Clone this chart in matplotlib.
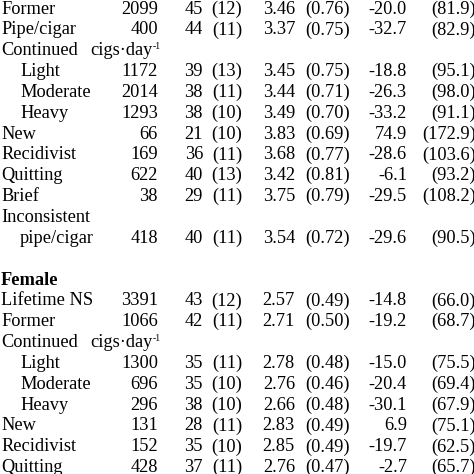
import matplotlib
matplotlib.use("Agg")
import matplotlib.pyplot as plt

labels = ["Former","Pipe/cigar","Continued","Light","Moderate","Heavy","New","Recidivist","Quitting","Brief","Inconsistent","pipe/cigar","","Female","Lifetime NS","Former","Continued","Light","Moderate","Heavy","New","Recidivist","Quitting"]
indent = [0,0,0,1,1,1,0,0,0,0,0,1,0,0,0,0,0,1,1,1,0,0,0]
n = ["2099","400","","1172","2014","1293","66","169","622","38","","418","","","3391","1066","","1300","696","296","131","152","428"]
age = ["45","44","","39","38","38","21","36","40","29","","40","","","43","42","","35","35","38","28","35","37"]
age_sd = ["(12)","(11)","","(13)","(11)","(10)","(10)","(11)","(13)","(11)","","(11)","","","(12)","(11)","","(11)","(10)","(10)","(11)","(10)","(11)"]
m = ["3.46","3.37","","3.45","3.44","3.49","3.83","3.68","3.42","3.75","","3.54","","","2.57","2.71","","2.78","2.76","2.66","2.83","2.85","2.76"]
m_sd = ["(0.76)","(0.75)","","(0.75)","(0.71)","(0.70)","(0.69)","(0.77)","(0.81)","(0.79)","","(0.72)","","","(0.49)","(0.50)","","(0.48)","(0.46)","(0.48)","(0.49)","(0.49)","(0.47)"]
ch = ["-20.0","-32.7","","-18.8","-26.3","-33.2","74.9","-28.6","-6.1","-29.5","","-29.6","","","-14.8","-19.2","","-15.0","-20.4","-30.1","6.9","-19.7","-2.7"]
ch_sd = ["(81.9)","(82.9)","","(95.1)","(98.0)","(91.1)","(172.9)","(103.6)","(93.2)","(108.2)","","(90.5)","","","(66.0)","(68.7)","","(75.5)","(69.4)","(67.9)","(75.1)","(62.5)","(65.7)"]

fig = plt.figure(figsize=(4.74,4.74), dpi=100)
ax = fig.add_axes([0,0,1,1]); ax.axis("off")
ax.set_xlim(0,474); ax.set_ylim(474,0)
fs = 13.2
fam = "Liberation Serif"
cols = [(n,158),(age,203),(age_sd,242),(m,295),(m_sd,350),(ch,407),(ch_sd,476)]
for i,lab in enumerate(labels):
    y = 9 + i*20.85
    x = 1 + 19*indent[i]
    if lab == "Continued":
        ax.text(x,y,"Continued",fontsize=fs,family=fam,va="center")
        ax.text(90,y,"cigs·day",fontsize=fs,family=fam,va="center")
        ax.text(153,y-4,"-1",fontsize=7,family=fam,va="center")
    elif lab:
        ax.text(x,y,lab,fontsize=fs,family=fam,va="center",weight="bold" if lab=="Female" else "normal")
    for arr,xr in cols:
        if arr[i]:
            ax.text(xr,y,arr[i],fontsize=fs,family=fam,va="center",ha="right")
fig.savefig("out.png", dpi=100)
